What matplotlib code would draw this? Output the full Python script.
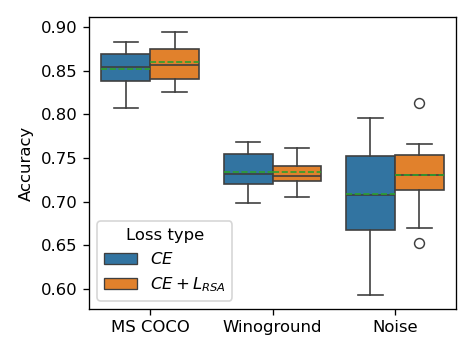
import matplotlib
matplotlib.use("Agg")
import matplotlib.pyplot as plt
from matplotlib.patches import Patch

# summary stats, per dataset, per loss type
datasets = ["MS COCO", "Winoground", "Noise"]
loss_types = ["$CE$", "$CE + L_{RSA}$"]

ce_whislo = [0.808, 0.699, 0.593]
ce_q1 = [0.838, 0.720, 0.668]
ce_med = [0.854, 0.732, 0.708]
ce_mean = [0.852, 0.734, 0.709]
ce_q3 = [0.869, 0.755, 0.752]
ce_whishi = [0.883, 0.768, 0.796]
ce_fliers = [[], [], []]

rsa_whislo = [0.826, 0.705, 0.670]
rsa_q1 = [0.841, 0.724, 0.713]
rsa_med = [0.857, 0.729, 0.731]
rsa_mean = [0.860, 0.734, 0.731]
rsa_q3 = [0.875, 0.741, 0.753]
rsa_whishi = [0.895, 0.762, 0.766]
rsa_fliers = [[], [], [0.813, 0.652]]

colors = ["#3274a1", "#e1812c"]
line_color = "#3f3f3f"


def make_stats(whislo, q1, med, mean, q3, whishi, fliers):
    return [dict(whislo=a, q1=b, med=c, mean=d, q3=e, whishi=f, fliers=g)
            for a, b, c, d, e, f, g in zip(whislo, q1, med, mean, q3, whishi, fliers)]


groups = [
    make_stats(ce_whislo, ce_q1, ce_med, ce_mean, ce_q3, ce_whishi, ce_fliers),
    make_stats(rsa_whislo, rsa_q1, rsa_med, rsa_mean, rsa_q3, rsa_whishi, rsa_fliers),
]

dpi = 118.5
fig = plt.figure(figsize=(474 / dpi, 355 / dpi), dpi=dpi)
ax = fig.add_axes([0.188, 0.130, 0.774, 0.821])

offsets = [-0.2, 0.2]
for stats, off, col in zip(groups, offsets, colors):
    pos = [i + off for i in range(len(datasets))]
    ax.bxp(stats, positions=pos, widths=0.4, patch_artist=True,
           showmeans=True, meanline=True,
           boxprops=dict(facecolor=col, edgecolor=line_color, linewidth=1.0),
           medianprops=dict(color=line_color, linewidth=1.0),
           whiskerprops=dict(color=line_color, linewidth=1.0),
           capprops=dict(color=line_color, linewidth=1.0),
           meanprops=dict(color="C2", linestyle="--", linewidth=1.0),
           flierprops=dict(marker="o", markerfacecolor="none",
                           markeredgecolor=line_color, markersize=6,
                           markeredgewidth=0.9))

ax.set_xticks(range(len(datasets)))
ax.set_xticklabels(datasets)
ax.set_xlim(-0.5, 2.5)
ax.set_ylim(0.577, 0.9114)
ax.set_yticks([0.60, 0.65, 0.70, 0.75, 0.80, 0.85, 0.90])
ax.set_ylabel("Accuracy")

handles = [Patch(facecolor=c, edgecolor=line_color, linewidth=0.8) for c in colors]
ax.legend(handles, loss_types, title="Loss type", loc="lower left")

fig.savefig("out.png", dpi=dpi)
